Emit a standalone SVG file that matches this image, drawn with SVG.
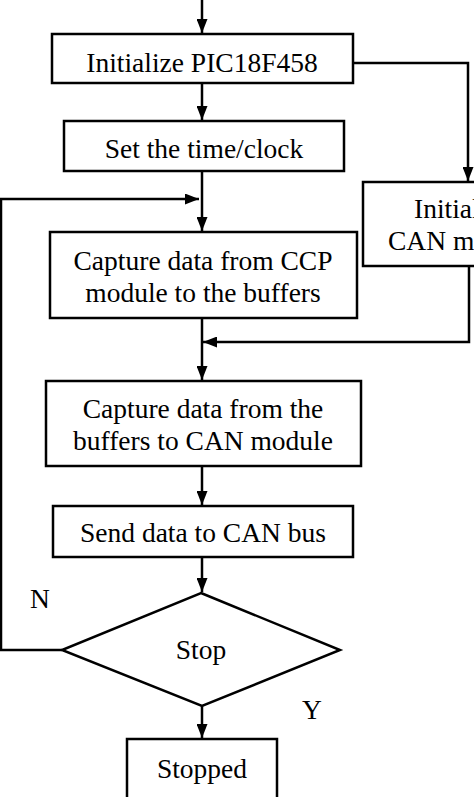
<svg xmlns="http://www.w3.org/2000/svg" width="474" height="797" viewBox="0 0 474 797">
<style>
.b{fill:#fff;stroke:#000;stroke-width:2.5}
.l{fill:none;stroke:#000;stroke-width:2.5}
.c{text-anchor:middle}
</style>
<defs>
<marker id="a" viewBox="0 0 14 11" refX="14" refY="5.5" markerWidth="14" markerHeight="11" markerUnits="userSpaceOnUse" orient="auto">
<path d="M0,0L14,5.5L0,11z" fill="#000"/>
</marker>
</defs>
<rect width="474" height="797" fill="#fff"/>
<g id="connectors">
<path class="l" d="M202,0V33" marker-end="url(#a)"/>
<path class="l" d="M202,84V120" marker-end="url(#a)"/>
<path class="l" d="M353,63H468V181" marker-end="url(#a)"/>
<path class="l" d="M202,171V231" marker-end="url(#a)"/>
<path class="l" d="M62,650H1V199H199" marker-end="url(#a)"/>
<path class="l" d="M202,318V380" marker-end="url(#a)"/>
<path class="l" d="M469,266V342H203" marker-end="url(#a)"/>
<path class="l" d="M202,466V505" marker-end="url(#a)"/>
<path class="l" d="M202,557V592" marker-end="url(#a)"/>
<path class="l" d="M202,706V738" marker-end="url(#a)"/>
</g>
<g font-family="Liberation Serif, Times New Roman, serif" font-size="27.5" fill="#000">
<g id="n1"><rect class="b" x="52" y="34" width="301" height="49"/><text class="c" x="202" y="72">Initialize PIC18F458</text></g>
<g id="n2"><rect class="b" x="64" y="121" width="280" height="50"/><text class="c" x="204" y="158">Set the time/clock</text></g>
<g id="n3"><path class="b" d="M480,182H363V266H480"/><text x="414" y="218">Initial</text><text x="388" y="250">CAN m</text></g>
<g id="n4"><rect class="b" x="50" y="232" width="307" height="86"/><text class="c" x="203" y="270">Capture data from CCP</text><text class="c" x="203" y="302">module to the buffers</text></g>
<g id="n5"><rect class="b" x="46" y="381" width="315" height="85"/><text class="c" x="203" y="418">Capture data from the</text><text class="c" x="203" y="450">buffers to CAN module</text></g>
<g id="n6"><rect class="b" x="53" y="506" width="300" height="51"/><text class="c" x="203" y="542">Send data to CAN bus</text></g>
<g id="n7"><path class="b" d="M201,593L340,650L202,706L62,650Z"/><text class="c" x="201" y="659">Stop</text></g>
<g id="n8"><rect class="b" x="127" y="739" width="150" height="70"/><text class="c" x="202" y="778">Stopped</text></g>
<text x="30" y="608">N</text>
<text x="302" y="719">Y</text>
</g>
</svg>
